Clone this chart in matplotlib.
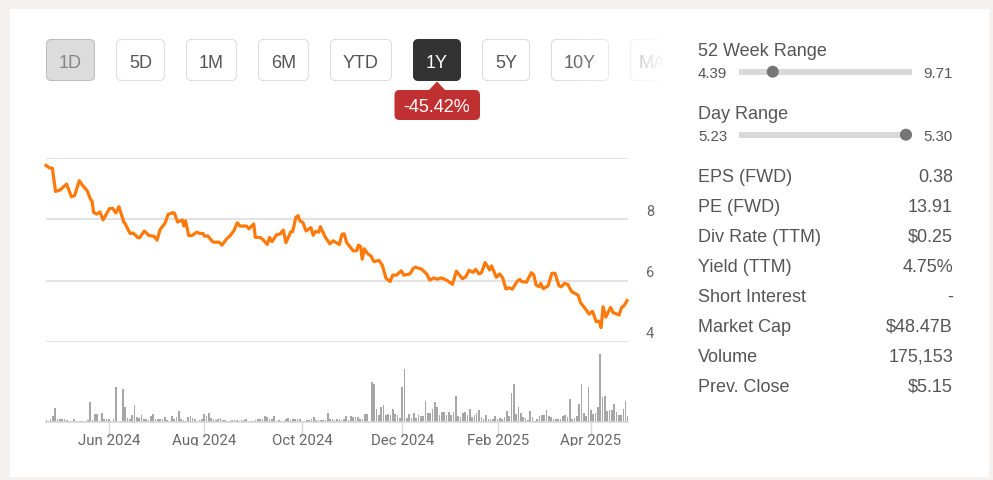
#!/usr/bin/env python3
"""Stock summary widget: 1Y price line, volume bars and the key stats panel."""

import matplotlib

matplotlib.use("Agg")

import matplotlib.pyplot as plt
import numpy as np
import pandas as pd
from matplotlib.patches import Circle, FancyBboxPatch, Polygon, Rectangle

W, H = 993, 481
UI_FONT = "Liberation Sans"
AXIS_FONT = "Roboto"
TEXT = "#555555"
TEXT_DY = 1.5  # va="center" sits a little high with this font

# ---------------------------------------------------------------------------
# Data
# ---------------------------------------------------------------------------
# price line: position in days from the first session, then close
price_day = [
    0, 2, 4, 6, 9, 11, 13, 16, 18, 21, 23, 26, 28, 29, 30, 32, 34, 36, 40, 42,
    44, 46, 49, 50, 53, 55, 58, 59, 62, 65, 68, 70, 72, 75, 77, 80, 81, 83, 86, 87,
    88, 90, 92, 95, 97, 99, 100, 102, 105, 107, 109, 111, 114, 116, 118.5, 120.6, 122.3, 126.5, 128, 131,
    132, 135, 137, 139.5, 141, 142.5, 145.4, 147.5, 149.6, 151.3, 154.3, 155.5, 157.6, 159, 160, 162, 164, 167, 168.5, 170,
    172, 173, 176, 179, 181, 185, 186.6, 188, 189.6, 193.8, 196, 197, 198.4, 199.4, 200.7, 202.6, 205, 206.8, 210, 212,
    214.4, 217, 218.6, 221, 224, 225.7, 229.5, 231.6, 233, 237, 240, 242, 244.5, 246.6, 249.4, 252.5, 256.3, 258.8, 262.6, 264.7,
    266.8, 269.3, 271, 273, 274.6, 276.9, 279.8, 281, 284, 286, 288, 290, 292, 294, 297, 298.7, 300, 303, 306, 307.6,
    309, 311, 312, 313.5, 316.6, 319, 321, 323.5, 325, 327, 329, 331.5, 335.5, 337, 341, 342.5, 344.6, 347, 348.8, 350,
    351.3, 353, 356, 357.6, 361.4, 363, 364.3, 366.4,
]
price = [
    9.76, 9.68, 9.67, 8.91, 8.96, 9.06, 9.15, 8.74, 8.77, 9.26, 9.11, 8.93, 8.66, 8.60, 8.23, 8.17, 8.24, 7.98, 8.35, 8.36,
    8.21, 8.41, 7.92, 7.85, 7.54, 7.55, 7.40, 7.40, 7.62, 7.47, 7.45, 7.32, 7.67, 7.87, 8.16, 8.22, 8.20, 7.91, 7.98, 7.78,
    7.95, 7.47, 7.47, 7.58, 7.54, 7.54, 7.45, 7.46, 7.27, 7.25, 7.26, 7.16, 7.37, 7.46, 7.63, 7.89, 7.78, 7.78, 7.69, 7.85,
    7.41, 7.41, 7.33, 7.18, 7.41, 7.27, 7.50, 7.52, 7.65, 7.24, 7.59, 7.60, 8.07, 8.12, 7.96, 7.89, 7.62, 7.73, 7.48, 7.61,
    7.58, 7.76, 7.43, 7.20, 7.30, 7.18, 7.51, 7.53, 7.24, 6.97, 6.98, 7.16, 7.11, 6.70, 7.04, 6.89, 6.80, 6.62, 6.66, 6.51,
    6.08, 5.97, 6.18, 6.18, 6.32, 6.18, 6.22, 6.40, 6.44, 6.37, 6.22, 6.02, 6.09, 6.05, 6.09, 6.02, 5.88, 6.31, 6.06, 6.13,
    6.34, 6.27, 6.37, 6.22, 6.26, 6.59, 6.35, 6.48, 6.11, 6.22, 6.09, 5.73, 5.77, 5.72, 5.97, 6.04, 5.97, 5.95, 6.26, 6.19,
    5.86, 5.80, 5.91, 5.74, 5.83, 6.24, 6.24, 5.83, 5.80, 5.91, 5.88, 5.64, 5.53, 5.29, 5.02, 4.91, 5.00, 4.66, 4.68, 4.47,
    5.15, 4.81, 5.13, 4.96, 4.88, 5.13, 5.17, 5.35,
]
# volume per session, thousands of shares
volume = [
    50, 40, 80, 180, 420, 100, 80, 80, 80, 50,
    40, 30, 80, 40, 30, 30, 40, 40, 70, 600,
    60, 250, 250, 40, 280, 100, 80, 80, 30, 80,
    1050, 40, 40, 1000, 450, 120, 80, 220, 500, 140,
    120, 220, 100, 100, 60, 180, 250, 100, 80, 100,
    100, 150, 50, 40, 180, 80, 150, 320, 80, 50,
    40, 150, 180, 120, 80, 40, 50, 100, 250, 180,
    270, 120, 80, 50, 100, 120, 50, 50, 30, 40,
    50, 60, 70, 40, 60, 60, 80, 30, 20,
    30, 60, 80, 80, 80, 180, 140, 80, 80, 180,
    40, 50, 40, 40, 80, 120, 50, 80, 80, 80,
    80, 40, 40, 60, 60, 80, 140, 50, 50, 50,
    50, 50, 280, 80, 80, 50, 80, 80, 50, 80,
    180, 50, 180, 140, 140, 140, 80, 80, 250, 250,
    40, 1200, 1150, 400, 220, 450, 500, 200, 250, 220,
    400, 250, 220, 120, 1050, 1600, 120, 250, 120, 280,
    120, 220, 180, 180, 620, 280, 280, 400, 600, 450,
    220, 300, 300, 220, 300, 220, 300, 780, 180, 150,
    280, 300, 220, 400, 150, 200, 280, 350, 150, 100, 220,
    100, 80, 80, 180, 100, 120, 100, 150, 320, 180, 880,
    1150, 250, 450, 280, 150, 120, 50, 320, 150, 30,
    80, 180, 220, 220, 350, 180, 150, 80, 80, 100, 80,
    180, 220, 150, 680, 100, 120, 180, 550, 1150, 280,
    180, 1050, 350, 250, 280, 450, 2050, 750, 780, 320,
    350, 350, 550, 300, 220, 220, 400, 620, 180,
]

range_buttons = ["1D", "5D", "1M", "6M", "YTD", "1Y", "5Y", "10Y", "MAX"]
change_label = "-45.42%"
price_ticks = [4, 6, 8, 10]
price_labels = ["4", "6", "8"]
month_ticks = ["2024-06-01", "2024-08-01", "2024-10-01", "2024-12-01", "2025-02-01", "2025-04-01"]
market_holidays = [
    "2024-05-27", "2024-06-19", "2024-07-04", "2024-09-02", "2024-11-28", "2024-12-25",
    "2025-01-01", "2025-01-09", "2025-01-20", "2025-02-17", "2025-04-18",
]
stat_names = ["EPS (FWD)", "PE (FWD)", "Div Rate (TTM)", "Yield (TTM)",
              "Short Interest", "Market Cap", "Volume", "Prev. Close"]
stat_values = ["0.38", "13.91", "$0.25", "4.75%", "-", "$48.47B", "175,153", "$5.15"]

# ---------------------------------------------------------------------------
# Layout, in pixels of the 993x481 image
# ---------------------------------------------------------------------------
BUTTON_X = [(46, 95), (116, 165), (186, 237), (258, 309), (330, 392),
            (413, 461), (482, 530), (551, 609), (630, 690)]


def px_axes(fig, left, top, right, bottom):
    return fig.add_axes([left / W, 1 - bottom / H, (right - left) / W, (bottom - top) / H])


def rounded(ax, x0, y0, x1, y1, radius, **kwargs):
    patch = FancyBboxPatch((x0 + radius, y0 + radius), x1 - x0 - 2 * radius, y1 - y0 - 2 * radius,
                           boxstyle=f"round,pad={radius},rounding_size={radius}", **kwargs)
    ax.add_patch(patch)
    return patch


def draw_buttons(ui):
    for label, (x0, x1) in zip(range_buttons, BUTTON_X):
        face, edge, color = "white", "#dddddd", TEXT
        if label == "1D":
            face, edge, color = "#dcdcdc", "#bdbdbd", "#858585"
        elif label == "1Y":
            face, edge, color = "#333333", "#333333", "white"
        rounded(ui, x0 + 0.5, 40.5, x1 - 0.5, 81.5, 5, facecolor=face, edgecolor=edge, linewidth=0.75, zorder=2)
        ui.text((x0 + x1) / 2 if label != "MAX" else 658, 61.5 + TEXT_DY, label, ha="center", va="center",
                fontsize=13, family=UI_FONT, color=color, zorder=3)

    # the strip of buttons fades out on the right
    fade = np.ones((1, 120, 4))
    fade[..., 3] = np.linspace(0, 1, 120) ** 1.5
    ui.imshow(fade, extent=(545, 665, 90, 30), aspect="auto", zorder=4, interpolation="bilinear")
    ui.add_patch(Rectangle((664, 30), 32, 60, facecolor="white", edgecolor="none", zorder=4))
    ui.set_xlim(0, W)
    ui.set_ylim(H, 0)

    # change badge under the selected range
    rounded(ui, 394.5, 91, 480, 121, 5, facecolor="#c13030", edgecolor="none", zorder=5)
    ui.add_patch(Polygon([(428, 92), (437, 82.5), (446, 92)], facecolor="#c13030", edgecolor="none", zorder=5))
    ui.text(437, 106 + TEXT_DY, change_label, ha="center", va="center", fontsize=13, family=UI_FONT,
            color="white", zorder=6)


def draw_range(ui, title, title_y, low, high, frac):
    bar_y = title_y + 22.7
    ui.text(698, title_y + TEXT_DY, title, ha="left", va="center", fontsize=13, family=UI_FONT, color=TEXT)
    ui.text(698, bar_y + 1, low, ha="left", va="center", fontsize=10.8, family=UI_FONT, color=TEXT)
    ui.text(953, bar_y + 1, high, ha="right", va="center", fontsize=10.8, family=UI_FONT, color=TEXT)
    ui.add_patch(Rectangle((739, bar_y - 3), 173, 6, facecolor="#d9d9d9", edgecolor="none"))
    ui.add_patch(Circle((739 + 173 * frac, bar_y), 6, facecolor="#757575", edgecolor="none", zorder=3))


def main():
    plt.rcParams["font.family"] = [AXIS_FONT, "DejaVu Sans"]
    fig = plt.figure(figsize=(W / 100, H / 100), dpi=100, facecolor="#f4f1ef")

    ui = fig.add_axes([0, 0, 1, 1])
    ui.set_xlim(0, W)
    ui.set_ylim(H, 0)
    ui.axis("off")
    ui.add_patch(Rectangle((10, 10), 979, 468, facecolor="white", edgecolor="none", zorder=0))

    draw_buttons(ui)
    draw_range(ui, "52 Week Range", 50, "4.39", "9.71", 0.195)
    draw_range(ui, "Day Range", 113, "5.23", "5.30", 0.965)
    for i, (name, value) in enumerate(zip(stat_names, stat_values)):
        y = 176 + 30 * i + TEXT_DY
        ui.text(698, y, name, ha="left", va="center", fontsize=13, family=UI_FONT, color=TEXT)
        ui.text(953, y, value, ha="right", va="center", fontsize=13, family=UI_FONT, color=TEXT)

    # sessions are evenly spaced, weekends and holidays take no room
    sessions = pd.bdate_range("2024-04-24", "2025-04-24").difference(pd.to_datetime(market_holidays))
    positions = np.arange(len(sessions))
    last = positions[-1]

    ax_price = px_axes(fig, 46, 159, 628, 343)
    ax_price.patch.set_alpha(0)
    ax_price.plot(np.array(price_day) * last / 367, price, color="#ff7a0a", linewidth=2.3,
                  solid_joinstyle="round", clip_on=False, zorder=3)
    ax_price.set_xlim(0, last)
    ax_price.set_ylim(4, 10)
    ax_price.set_xticks([])
    ax_price.set_yticks(price_ticks)
    ax_price.set_yticklabels([])
    ax_price.tick_params(axis="y", length=0)
    ax_price.grid(axis="y", color="#dadada", linewidth=1.1)
    # the labels float above their grid lines, right of the plot
    for tick, label in zip(price_ticks, price_labels):
        ax_price.annotate(label, xy=(1, tick), xycoords=("axes fraction", "data"), xytext=(13, 6.2),
                          textcoords="offset points", ha="left", va="center", fontsize=10.5, color="#666666")
    for side in ax_price.spines.values():
        side.set_visible(False)

    ax_vol = px_axes(fig, 46, 343, 628, 423)
    ax_vol.patch.set_alpha(0)
    ax_vol.bar(positions, volume, width=0.7, color="#a6a6a6", linewidth=0)
    ax_vol.set_xlim(0, last)
    ax_vol.set_ylim(0, 2400)
    ax_vol.set_yticks([])
    tick_pos = [int(np.searchsorted(sessions, pd.Timestamp(m))) for m in month_ticks]
    ax_vol.set_xticks(tick_pos)
    ax_vol.set_xticklabels([pd.Timestamp(m).strftime("%b %Y") for m in month_ticks])
    ax_vol.tick_params(axis="x", length=10, width=1, color="#d8d8d8", pad=-2.2, labelsize=10.8, labelcolor="#666666")
    for side in ("top", "left", "right"):
        ax_vol.spines[side].set_visible(False)
    ax_vol.spines["bottom"].set_color("#d8d8d8")
    ax_vol.spines["bottom"].set_linewidth(1.2)

    ui.set_zorder(0)
    ax_price.set_zorder(1)
    ax_vol.set_zorder(1)

    # descenders of the month labels are cut off in the widget
    fig.add_artist(Rectangle((40 / W, 1 - 459 / H), 600 / W, 12 / H, transform=fig.transFigure,
                             facecolor="white", edgecolor="none", zorder=10))

    fig.savefig("out.png", dpi=100, facecolor=fig.get_facecolor())
    plt.close(fig)


if __name__ == "__main__":
    main()
